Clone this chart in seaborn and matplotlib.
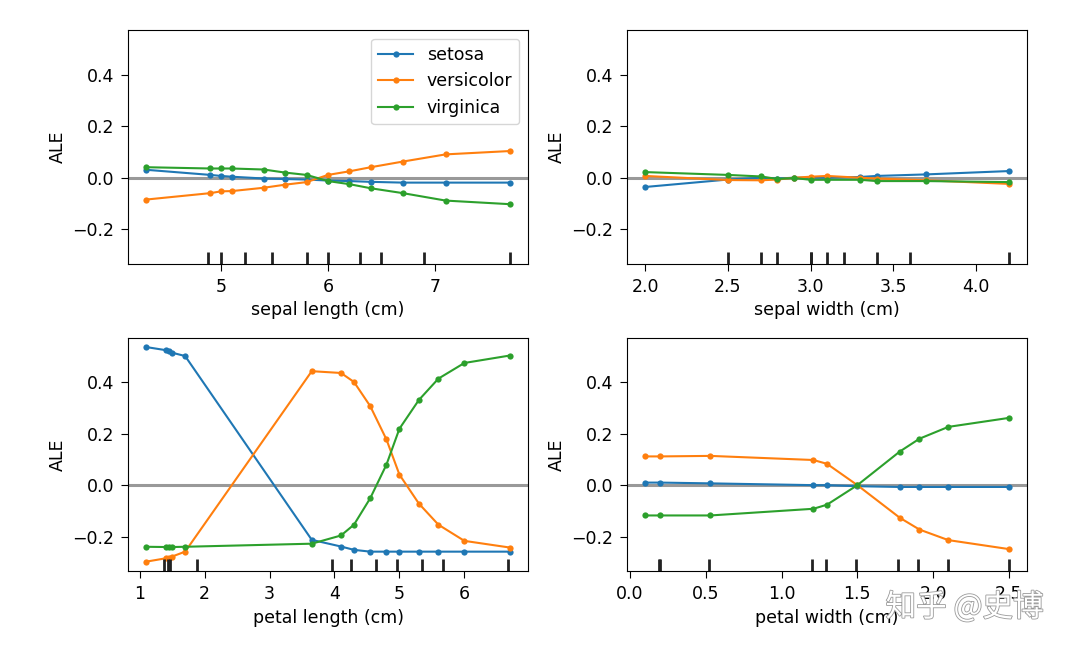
# ALE plots for the iris classifier, one panel per feature
import pandas as pd
import seaborn as sns
import matplotlib.pyplot as plt
import matplotlib.transforms as mtransforms
import matplotlib.patheffects as pe

classes = ['setosa', 'versicolor', 'virginica']
colors = ['#1f77b4', '#ff7f0e', '#2ca02c']

# sepal length
sl_x = [4.3, 4.9, 5.0, 5.1, 5.4, 5.6, 5.8, 6.0, 6.2, 6.4, 6.7, 7.1, 7.7]
sl_setosa = [0.031, 0.011, 0.007, 0.004, -0.003, -0.005, -0.007, -0.011, -0.013, -0.016, -0.019, -0.019, -0.019]
sl_versicolor = [-0.085, -0.060, -0.053, -0.052, -0.039, -0.027, -0.017, 0.011, 0.025, 0.041, 0.063, 0.091, 0.104]
sl_virginica = [0.041, 0.036, 0.036, 0.036, 0.032, 0.020, 0.011, -0.013, -0.025, -0.041, -0.060, -0.089, -0.103]
sl_deciles = [4.88, 5.0, 5.22, 5.48, 5.8, 6.0, 6.3, 6.5, 6.9, 7.7]
sl_ticks = [5, 6, 7]

# sepal width
sw_x = [2.0, 2.5, 2.7, 2.8, 2.9, 3.0, 3.1, 3.3, 3.4, 3.7, 4.2]
sw_setosa = [-0.036, -0.007, 0.0, -0.003, 0.0, 0.0, 0.0, 0.003, 0.007, 0.013, 0.026]
sw_versicolor = [0.007, -0.009, -0.010, -0.007, 0.0, 0.004, 0.007, 0.0, -0.003, -0.010, -0.024]
sw_virginica = [0.022, 0.011, 0.005, -0.005, -0.001, -0.008, -0.008, -0.008, -0.013, -0.013, -0.017]
sw_deciles = [2.5, 2.7, 2.8, 3.0, 3.0, 3.1, 3.2, 3.4, 3.6, 4.2]
sw_ticks = [2.0, 2.5, 3.0, 3.5, 4.0]

# petal length
pl_x = [1.1, 1.4, 1.45, 1.5, 1.7, 3.65, 4.1, 4.3, 4.55, 4.8, 5.0, 5.3, 5.6, 6.0, 6.7]
pl_setosa = [0.538, 0.526, 0.521, 0.516, 0.503, -0.213, -0.239, -0.252, -0.259, -0.259, -0.259, -0.259, -0.259, -0.259, -0.259]
pl_versicolor = [-0.298, -0.285, -0.282, -0.278, -0.259, 0.444, 0.437, 0.402, 0.308, 0.178, 0.041, -0.072, -0.154, -0.217, -0.243]
pl_virginica = [-0.240, -0.241, -0.241, -0.241, -0.240, -0.228, -0.196, -0.154, -0.051, 0.080, 0.220, 0.332, 0.415, 0.476, 0.505]
pl_deciles = [1.38, 1.44, 1.47, 1.88, 3.96, 4.26, 4.64, 4.96, 5.34, 5.67, 6.67]
pl_ticks = [1, 2, 3, 4, 5, 6]

# petal width
pw_x = [0.1, 0.2, 0.53, 1.21, 1.3, 1.5, 1.78, 1.91, 2.1, 2.5]
pw_setosa = [0.010, 0.010, 0.007, 0.0, 0.0, -0.004, -0.007, -0.007, -0.007, -0.007]
pw_versicolor = [0.112, 0.112, 0.114, 0.098, 0.083, 0.0, -0.127, -0.173, -0.214, -0.249]
pw_virginica = [-0.118, -0.118, -0.118, -0.092, -0.076, 0.0, 0.131, 0.181, 0.227, 0.262]
pw_deciles = [0.19, 0.2, 0.52, 1.2, 1.29, 1.49, 1.77, 1.9, 2.1, 2.5]
pw_ticks = [0.0, 0.5, 1.0, 1.5, 2.0, 2.5]

features = [
    ('sepal length (cm)', sl_x, [sl_setosa, sl_versicolor, sl_virginica], sl_deciles, sl_ticks),
    ('sepal width (cm)', sw_x, [sw_setosa, sw_versicolor, sw_virginica], sw_deciles, sw_ticks),
    ('petal length (cm)', pl_x, [pl_setosa, pl_versicolor, pl_virginica], pl_deciles, pl_ticks),
    ('petal width (cm)', pw_x, [pw_setosa, pw_versicolor, pw_virginica], pw_deciles, pw_ticks),
]

plt.rcParams['font.size'] = 12.5
plt.rcParams['xtick.major.size'] = 5
plt.rcParams['ytick.major.size'] = 5
plt.rcParams['xtick.major.pad'] = 5
plt.rcParams['ytick.major.pad'] = 5

fig, axes = plt.subplots(2, 2, figsize=(10.8, 6.55), dpi=100)
fig.subplots_adjust(left=0.1185, right=0.951, top=0.954, bottom=0.128,
                    wspace=0.2475, hspace=0.316)

for i, (name, xs, ale, deciles, ticks) in enumerate(features):
    ax = axes.flat[i]
    rows = []
    for cls, vals in zip(classes, ale):
        for x, v in zip(xs, vals):
            rows.append({'value': x, 'ALE': v, 'class': cls})
    df = pd.DataFrame(rows)

    sns.lineplot(data=df, x='value', y='ALE', hue='class', palette=colors,
                 marker='o', markersize=4.5, markeredgewidth=0, linewidth=1.5,
                 legend=(i == 0), ax=ax)

    ax.axhline(0, color='#999999', lw=2.2, zorder=1)

    # deciles as a rug at the bottom of the panel
    trans = mtransforms.blended_transform_factory(ax.transData, ax.transAxes)
    ax.vlines(deciles, 0, 0.05, transform=trans, color='#222222', lw=2)

    ax.set_xticks(ticks)
    ax.set_xlabel(name)
    ax.set_ylabel('ALE')
    ax.set_ylim(-0.335, 0.575)
    ax.set_yticks([-0.2, 0.0, 0.2, 0.4])

    if i == 0:
        sns.move_legend(ax, 'upper right', title=None)

fig.text(0.82, 0.073, '知乎 @史博', family=['Noto Sans CJK SC', 'DejaVu Sans'],
         fontsize=22, color='white', va='center',
         path_effects=[pe.withStroke(linewidth=1.2, foreground='#9a9a9a')])

plt.savefig('out.png', dpi=100)
